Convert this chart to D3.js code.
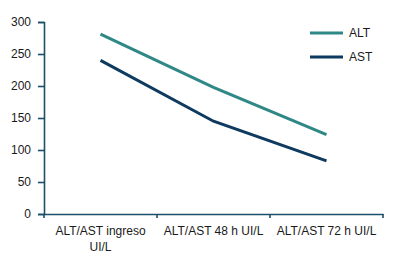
<!DOCTYPE html>
<html>
<head>
<meta charset="utf-8">
<script src="https://cdn.jsdelivr.net/npm/d3@7"></script>
<style>
  body { margin: 0; background: #fff; }
  text { font-family: "Liberation Sans", Arial, sans-serif; fill: #1a1a1a; }
</style>
</head>
<body>
<div id="wrapper"></div>
<script>
// data
const categories = ['ALT/AST ingreso UI/L', 'ALT/AST 48 h UI/L', 'ALT/AST 72 h UI/L']
const altValues = [281, 198, 124]
const astValues = [240, 145, 83]
const yTicks = [0, 50, 100, 150, 200, 250, 300]
const seriesNames = ['ALT', 'AST']

const colorALT = '#2f8886'
const colorAST = '#0d3a5e'
const axisColor = '#1d4f6a'

const dimensions = {
  width: 394,
  height: 259,
  margin: { top: 22, right: 11, bottom: 45, left: 44 },
}
dimensions.boundedWidth = dimensions.width - dimensions.margin.left - dimensions.margin.right
dimensions.boundedHeight = dimensions.height - dimensions.margin.top - dimensions.margin.bottom

const wrapper = d3.select('#wrapper').append('svg')
  .attr('width', dimensions.width)
  .attr('height', dimensions.height)

const bounds = wrapper.append('g')
  .attr('transform', `translate(${dimensions.margin.left},${dimensions.margin.top})`)

const xScale = d3.scaleBand()
  .domain(categories)
  .range([0, dimensions.boundedWidth])

const yScale = d3.scaleLinear()
  .domain([0, 300])
  .range([dimensions.boundedHeight, 0])

// y axis
const yAxis = bounds.append('g')
  .call(d3.axisLeft(yScale).tickValues(yTicks).tickSize(6).tickPadding(7))
yAxis.selectAll('text').style('font-size', '12px')

// x axis, ticks at band edges
const xAxis = bounds.append('g')
  .attr('transform', `translate(0,${dimensions.boundedHeight})`)
  .call(d3.axisBottom(xScale).tickSize(0).tickPadding(12))
xAxis.selectAll('text').style('font-size', '12px')
const edges = categories.map(c => xScale(c)).concat([dimensions.boundedWidth])
xAxis.selectAll('.edge-tick')
  .data(edges)
  .enter()
  .append('line')
  .attr('class', 'edge-tick')
  .attr('x1', d => d).attr('x2', d => d)
  .attr('y1', 0).attr('y2', 4)

// wrap long category labels
xAxis.selectAll('.tick text').each(function () {
  const text = d3.select(this)
  const words = text.text().split(' ')
  const maxW = xScale.bandwidth() - 4
  text.text(null)
  let line = []
  let tspan = text.append('tspan').attr('x', 0).attr('dy', '0.71em')
  words.forEach((w) => {
    line.push(w)
    tspan.text(line.join(' '))
    if (tspan.node().getComputedTextLength() > maxW && line.length > 1) {
      line.pop()
      tspan.text(line.join(' '))
      line = [w]
      tspan = text.append('tspan').attr('x', 0).attr('dy', '16px').text(w)
    }
  })
})

bounds.selectAll('.domain, .tick line, .edge-tick')
  .attr('stroke', axisColor)
  .attr('stroke-width', 1.6)

// lines
const lineGenerator = d3.line()
  .x((d, i) => xScale(categories[i]) + xScale.bandwidth() / 2)
  .y(d => yScale(d))

const series = [
  { name: seriesNames[0], values: altValues, color: colorALT },
  { name: seriesNames[1], values: astValues, color: colorAST },
]

bounds.selectAll('.series')
  .data(series)
  .enter()
  .append('path')
  .attr('d', d => lineGenerator(d.values))
  .attr('fill', 'none')
  .attr('stroke', d => d.color)
  .attr('stroke-width', 3)

// legend
const legend = wrapper.append('g').attr('transform', 'translate(310,33)')
const legendItems = legend.selectAll('g')
  .data(series)
  .enter()
  .append('g')
  .attr('transform', (d, i) => `translate(0,${i * 24})`)
legendItems.append('line')
  .attr('x1', 0).attr('x2', 33)
  .attr('stroke', d => d.color)
  .attr('stroke-width', 3)
legendItems.append('text')
  .attr('x', 39)
  .attr('dy', '0.35em')
  .style('font-size', '12px')
  .text(d => d.name)
</script>
</body>
</html>
